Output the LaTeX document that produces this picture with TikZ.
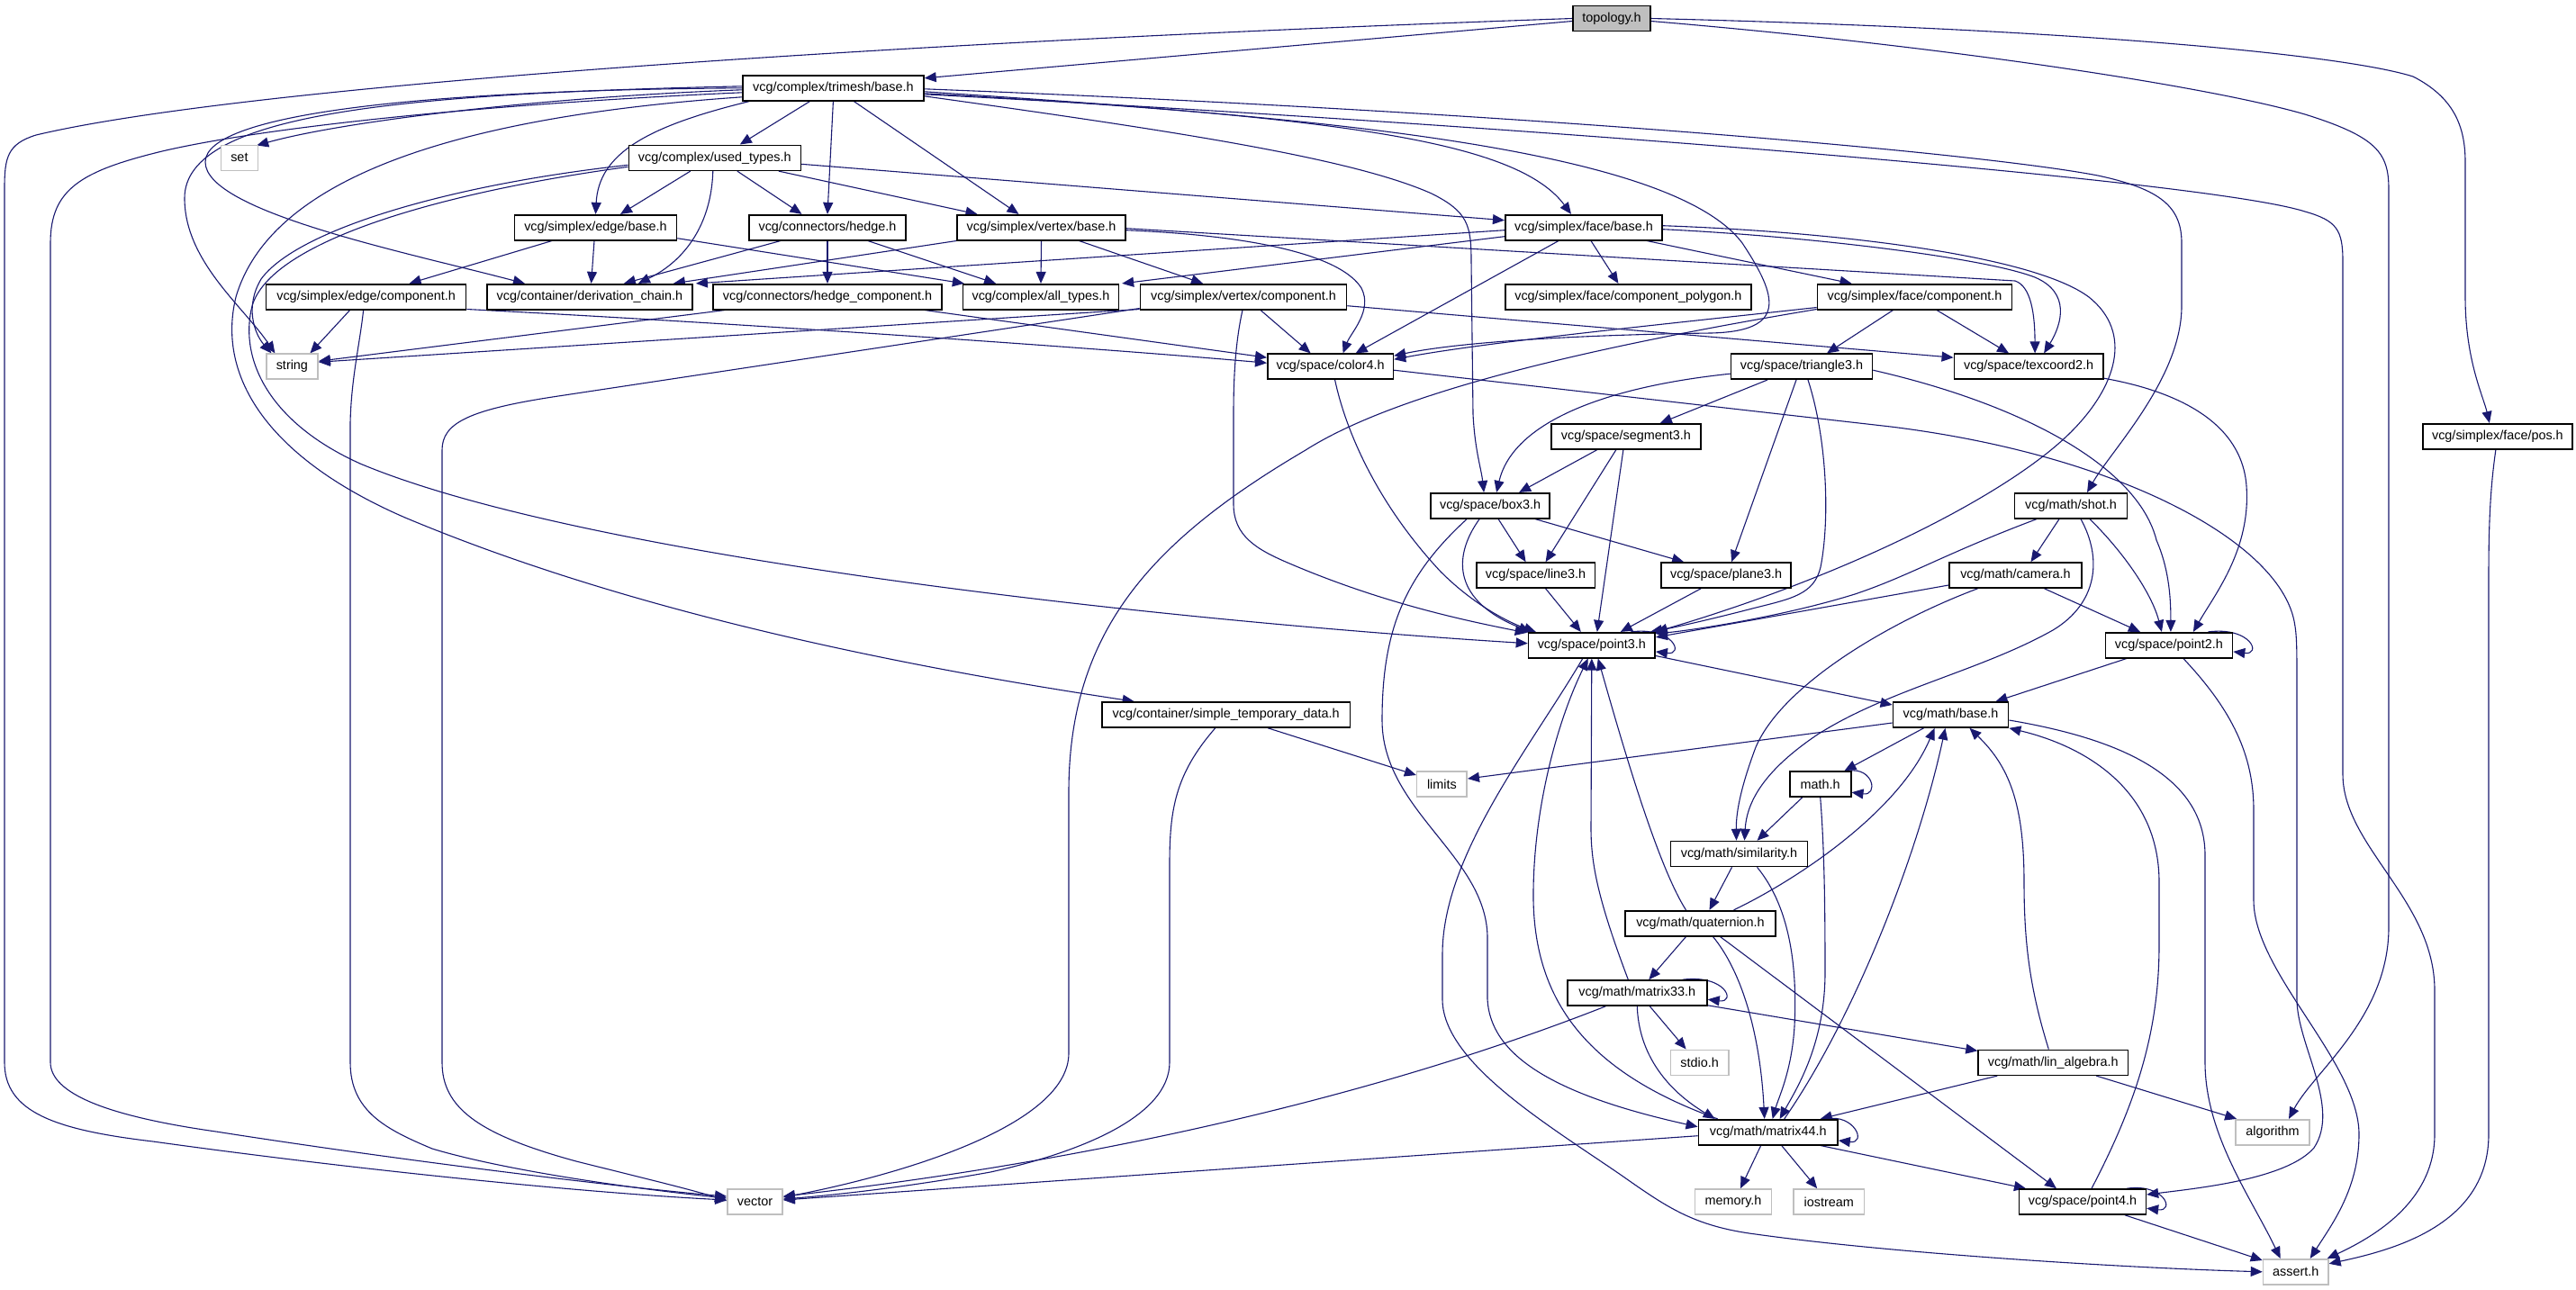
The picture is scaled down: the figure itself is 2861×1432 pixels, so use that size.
\documentclass[tikz,border=0pt]{standalone}
\usepackage{fontspec}
\setmainfont{Liberation Sans}
\usetikzlibrary{arrows.meta,calc}
\definecolor{edgec}{HTML}{191970}
\definecolor{extc}{HTML}{BFBFBF}
\pgfdeclarelayer{bg}
\pgfsetlayers{bg,main}
\tikzset{
 nd/.style={draw=black, line width=0.8pt, fill=white, rectangle, minimum height=14pt, inner sep=0pt, font=\fontsize{7.2}{8.6}\selectfont},
 ext/.style={nd, draw=extc},
 root/.style={nd, fill=extc},
 bw/.style={minimum width=#1*0.5pt},
 dep/.style={draw=edgec, line width=0.55pt, -{Triangle[length=6.5pt,width=5.5pt]}},
}
\begin{document}
\begin{tikzpicture}[x=0.5pt,y=-0.5pt]
\useasboundingbox (0,0) rectangle (2861,1432);
% ---------- nodes ----------
\node[root,bw=86] (topo) at (1790,20.5) {topology.h};
\node[nd,bw=201] (trimesh) at (925.4,97.8) {vcg/complex/trimesh/base.h};
\node[nd,bw=191] (used) at (793.8,175.3) {vcg/complex/used\_types.h};
\node[ext,bw=41] (set) at (265.9,175.3) {set};
\node[nd,bw=180] (ebase) at (661.5,252.7) {vcg/simplex/edge/base.h};
\node[nd,bw=174.5] (hedge) at (919,252.7) {vcg/connectors/hedge.h};
\node[nd,bw=187] (vbase) at (1156.5,252.7) {vcg/simplex/vertex/base.h};
\node[nd,bw=174.5] (fbase) at (1759,252.7) {vcg/simplex/face/base.h};
\node[nd,bw=222] (ecomp) at (406.6,329.7) {vcg/simplex/edge/component.h};
\node[nd,bw=228] (deriv) at (654.9,329.7) {vcg/container/derivation\_chain.h};
\node[nd,bw=254.4] (hcomp) at (919,329.7) {vcg/connectors/hedge\_component.h};
\node[nd,bw=172.7] (alltypes) at (1156,329.7) {vcg/complex/all\_types.h};
\node[nd,bw=229] (vcomp) at (1381,329.7) {vcg/simplex/vertex/component.h};
\node[nd,bw=273.3] (cpoly) at (1808.4,329.7) {vcg/simplex/face/component\_polygon.h};
\node[nd,bw=216] (fcomp) at (2126.5,329.7) {vcg/simplex/face/component.h};
\node[ext,bw=57.4] (string) at (324.4,407.2) {string};
\node[nd,bw=139.6] (color4) at (1477.6,407.2) {vcg/space/color4.h};
\node[nd,bw=157] (tri3) at (2001,407.2) {vcg/space/triangle3.h};
\node[nd,bw=165.5] (texc) at (2253.1,407.2) {vcg/space/texcoord2.h};
\node[nd,bw=166.2] (seg3) at (1805.9,484.8) {vcg/space/segment3.h};
\node[nd,bw=166.4] (pos) at (2773.9,484.8) {vcg/simplex/face/pos.h};
\node[nd,bw=131.8] (box3) at (1655.1,561.8) {vcg/space/box3.h};
\node[nd,bw=125.2] (shot) at (2300,561.8) {vcg/math/shot.h};
\node[nd,bw=131.8] (line3) at (1705.6,639) {vcg/space/line3.h};
\node[nd,bw=144.1] (plane3) at (1917.1,639) {vcg/space/plane3.h};
\node[nd,bw=147.1] (camera) at (2238.5,639) {vcg/math/camera.h};
\node[nd,bw=140.6] (point3) at (1767.8,716.7) {vcg/space/point3.h};
\node[nd,bw=141.2] (point2) at (2408.9,716.7) {vcg/space/point2.h};
\node[nd,bw=275.7] (stdata) at (1361.7,794) {vcg/container/simple\_temporary\_data.h};
\node[nd,bw=128.2] (mbase) at (2166.5,794) {vcg/math/base.h};
\node[ext,bw=55.5] (limits) at (1601.4,871) {limits};
\node[nd,bw=68] (mathh) at (2021.7,871) {math.h};
\node[nd,bw=152] (simil) at (1931.5,948.5) {vcg/math/similarity.h};
\node[nd,bw=167.1] (quat) at (1888.5,1025.7) {vcg/math/quaternion.h};
\node[nd,bw=155.2] (m33) at (1818.3,1103) {vcg/math/matrix33.h};
\node[ext,bw=64.3] (stdio) at (1887.6,1180.3) {stdio.h};
\node[nd,bw=166.4] (linalg) at (2280.3,1180.3) {vcg/math/lin\_algebra.h};
\node[nd,bw=154.7] (m44) at (1963.7,1257.7) {vcg/math/matrix44.h};
\node[ext,bw=82.1] (algo) at (2524,1257.7) {algorithm};
\node[ext,bw=84.9] (memory) at (1925,1335) {memory.h};
\node[ext,bw=78.5] (iostream) at (2031.2,1335) {iostream};
\node[nd,bw=140.7] (point4) at (2313,1335) {vcg/space/point4.h};
\node[ext,bw=61.1] (vector) at (838.5,1335) {vector};
\node[ext,bw=72.3] (assert) at (2549.7,1412.8) {assert.h};
% ---------- edges ----------
\begin{pgfonlayer}{bg}
\fill[white] (0,0) rectangle (2861,1432);
% topology
\draw[dep] ($(topo.west)+(0,3)$) -- ($(trimesh.east)+(0,-11)$);
\draw[dep] (topo.west) .. controls (900,50) and (250,100) .. (40,150) .. controls (8,160) and (5,175) .. (5,210) -- (5,1180) .. controls (5,1235) and (60,1255) .. (170,1268) .. controls (400,1300) and (650,1325) .. ($(vector.west)+(0,-2)$);
\draw[dep] ($(topo.east)+(0,3)$) .. controls (2150,50) and (2450,95) .. (2560,127) .. controls (2640,152) and (2653,170) .. (2653,210) -- (2653,1030) .. controls (2653,1130) and (2570,1190) .. ($(algo.north)+(18,0)$);
\draw[dep] (topo.east) .. controls (2300,32) and (2600,60) .. (2680,85) .. controls (2725,108) and (2738,140) .. (2738,180) -- (2738,330) .. controls (2738,400) and (2758,440) .. ($(pos.north)+(-9,0)$);
\draw[dep] ($(pos.south)+(-2,0)$) .. controls (2766,540) and (2764,580) .. (2764,640) -- (2764,1260) .. controls (2764,1360) and (2660,1388) .. ($(assert.east)+(0,-9)$);
% trimesh/base.h
\draw[dep] ($(trimesh.south)+(-26,0)$) -- ($(used.north)+(28,0)$);
\draw[dep] (trimesh.south) -- (hedge.north);
\draw[dep] ($(trimesh.south)+(23,0)$) -- ($(vbase.north)+(-25,0)$);
\draw[dep] ($(trimesh.south west)+(8,0)$) .. controls (720,140) and (665,170) .. (ebase.north);
\draw[dep] ($(trimesh.east)+(0,4)$) .. controls (1450,130) and (1680,150) .. ($(fbase.north)+(-14,0)$);
\draw[dep] ($(trimesh.west)+(0,2)$) .. controls (600,108) and (380,135) .. ($(set.north east)+(-2,1)$);
\draw[dep] ($(trimesh.west)+(0,-2)$) .. controls (450,104) and (205,125) .. (205,220) .. controls (205,290) and (270,340) .. ($(string.north)+(-19,0)$);
\draw[dep] (trimesh.west) .. controls (480,100) and (228,125) .. (228,180) .. controls (228,235) and (450,280) .. ($(deriv.north)+(-72,0)$);
\draw[dep] ($(trimesh.west)+(0,5)$) .. controls (550,115) and (300,140) .. (180,168) .. controls (90,190) and (56,210) .. (56,270) -- (56,1180) .. controls (56,1215) and (120,1240) .. (240,1257) .. controls (450,1290) and (700,1320) .. ($(vector.west)+(0,-6)$);
\draw[dep] ($(trimesh.west)+(0,10)$) .. controls (500,130) and (300,200) .. (262,330) .. controls (240,420) and (300,510) .. (450,575) .. controls (700,680) and (1000,740) .. ($(stdata.north)+(-102,0)$);
\draw[dep] ($(trimesh.east)+(0,9)$) .. controls (1300,145) and (1500,175) .. (1590,215) .. controls (1630,235) and (1634,250) .. (1634,290) -- (1636,460) .. controls (1638,500) and (1645,520) .. ($(box3.north)+(-7,0)$);
\draw[dep] ($(trimesh.east)+(0,6)$) .. controls (1500,130) and (1860,170) .. (1935,270) .. controls (1975,330) and (1985,368) .. (1900,370) .. controls (1750,372) and (1620,380) .. ($(color4.east)+(0,-12)$);
\draw[dep] ($(trimesh.east)+(0,1)$) .. controls (1700,125) and (2200,170) .. (2330,195) .. controls (2400,210) and (2423,230) .. (2423,270) -- (2423,340) .. controls (2423,420) and (2345,500) .. ($(shot.north)+(18,0)$);
\draw[dep] ($(trimesh.east)+(0,7)$) .. controls (1700,140) and (2450,200) .. (2560,235) .. controls (2595,245) and (2602,255) .. (2602,290) -- (2602,860) .. controls (2602,940) and (2704,1000) .. (2704,1100) -- (2704,1260) .. controls (2704,1330) and (2645,1370) .. ($(assert.north east)+(-2,0)$);
% used_types.h
\draw[dep] ($(used.south)+(-27,0)$) -- ($(ebase.north)+(27.5,0)$);
\draw[dep] ($(used.south)+(-2,0)$) .. controls (790,250) and (760,290) .. ($(deriv.north)+(54,0)$);
\draw[dep] ($(used.south)+(25,0)$) -- ($(hedge.north)+(-28.5,0)$);
\draw[dep] ($(used.south)+(71,0)$) -- ($(vbase.north)+(-71,0)$);
\draw[dep] ($(used.east)+(0,7)$) -- ($(fbase.west)+(0,-8)$);
\draw[dep] ($(used.west)+(0,8)$) .. controls (500,205) and (330,255) .. (290,310) .. controls (272,340) and (282,370) .. ($(string.north)+(-23,0)$);
\draw[dep] ($(used.west)+(0,10)$) .. controls (480,215) and (300,270) .. (280,340) .. controls (265,400) and (300,470) .. (400,515) .. controls (650,620) and (1300,690) .. ($(point3.west)+(0,-2)$);
% hedge.h
\draw[dep] ($(hedge.south)+(-52,0)$) -- ($(deriv.north)+(38,0)$);
\draw[dep] (hedge.south) -- (hcomp.north);
\draw[dep] ($(hedge.south)+(45,0)$) -- ($(alltypes.north)+(-50,0)$);
% edge/base.h
\draw[dep] ($(ebase.south)+(-48.5,0)$) -- ($(ecomp.north)+(48,0)$);
\draw[dep] ($(ebase.south)+(-1.5,0)$) -- ($(deriv.north)+(1.7,0)$);
\draw[dep] ($(ebase.east)+(0,12)$) -- ($(alltypes.north west)+(2,0)$);
% vertex/base.h
\draw[dep] (vbase.south) -- (alltypes.north);
\draw[dep] (vbase.south west) -- ($(deriv.north)+(93,0)$);
\draw[dep] ($(vbase.south)+(42,0)$) -- ($(vcomp.north)+(-45,0)$);
\draw[dep] ($(vbase.east)+(0,3)$) .. controls (1400,262) and (1490,285) .. (1512,320) .. controls (1525,345) and (1500,370) .. ($(color4.north)+(14,0)$);
\draw[dep] ($(vbase.east)+(0,1)$) -- (2238,312) .. controls (2256,318) and (2260,350) .. ($(texc.north)+(7,0)$);
% face/base.h
\draw[dep] ($(fbase.west)+(0,3)$) -- ($(deriv.north)+(118,0)$);
\draw[dep] ($(fbase.west)+(0,10)$) -- ($(alltypes.north east)+(3,0)$);
\draw[dep] ($(fbase.south)+(-28,0)$) -- ($(color4.north)+(28,0)$);
\draw[dep] ($(fbase.south)+(8,0)$) -- ($(cpoly.north)+(-11,0)$);
\draw[dep] ($(fbase.south)+(70,0)$) -- ($(fcomp.north)+(-70,0)$);
\draw[dep] ($(fbase.east)+(0,2)$) .. controls (2000,262) and (2200,285) .. (2260,308) .. controls (2300,325) and (2290,360) .. ($(texc.north)+(17,0)$);
\draw[dep] ($(fbase.east)+(0,-2)$) .. controls (2050,258) and (2260,285) .. (2320,330) .. controls (2370,370) and (2350,430) .. (2300,480) .. controls (2230,550) and (2050,640) .. (point3.north east);
% vertex/component.h
\draw[dep] ($(vcomp.south west)+(0,-1)$) -- ($(string.east)+(0,-5)$);
\draw[dep] ($(vcomp.south)+(19,0)$) -- ($(color4.north)+(-22,0)$);
\draw[dep] ($(vcomp.south)+(-1,0)$) .. controls (1372,380) and (1370,420) .. (1370,460) -- (1370,560) .. controls (1370,595) and (1395,610) .. (1430,625) .. controls (1530,668) and (1620,688) .. ($(point3.north west)+(-1,1)$);
\draw[dep] ($(vcomp.south west)+(0,-2)$) -- (620,440) .. controls (520,455) and (491,470) .. (491,500) -- (491,1180) .. controls (491,1230) and (530,1260) .. (640,1290) .. controls (720,1310) and (770,1322) .. ($(vector.west)+(0,-1)$);
\draw[dep] ($(vcomp.east)+(0,10)$) -- ($(texc.west)+(0,-10)$);
% edge/component.h
\draw[dep] ($(ecomp.south)+(-18,0)$) -- ($(string.north)+(20,0)$);
\draw[dep] ($(ecomp.south)+(-3,0)$) .. controls (400,380) and (390,420) .. (389,470) -- (389,1180) .. controls (389,1235) and (430,1255) .. (480,1276) .. controls (560,1300) and (700,1320) .. ($(vector.west)+(0,-4)$);
\draw[dep] ($(ecomp.south east)+(0,-1)$) .. controls (800,358) and (1200,385) .. ($(color4.west)+(0,-4)$);
% hedge_component.h
\draw[dep] ($(hcomp.south west)+(14,0)$) -- ($(string.east)+(0,-6)$);
\draw[dep] ($(hcomp.south east)+(-20,0)$) -- ($(color4.west)+(0,-10)$);
% face/component.h
\draw[dep] ($(fcomp.south west)+(0,-3)$) .. controls (1850,360) and (1650,380) .. ($(color4.east)+(0,-8)$);
\draw[dep] ($(fcomp.south west)+(0,-1)$) .. controls (1800,380) and (1560,430) .. (1450,500) .. controls (1280,600) and (1187,700) .. (1187,880) -- (1187,1170) .. controls (1187,1250) and (1000,1305) .. ($(vector.east)+(0,-5)$);
\draw[dep] ($(fcomp.south)+(-24,0)$) -- ($(tri3.north)+(28,0)$);
\draw[dep] ($(fcomp.south)+(24.5,0)$) -- ($(texc.north)+(-22,0)$);
% color4.h
\draw[dep] ($(color4.south)+(5,0)$) .. controls (1495,480) and (1530,560) .. (1600,635) .. controls (1640,675) and (1680,693) .. ($(point3.north)+(-62,0)$);
\draw[dep] ($(color4.east)+(0,4)$) -- (2100,474) .. controls (2350,505) and (2530,600) .. (2548,690) .. controls (2551,705) and (2551,720) .. (2551,760) -- (2551,1110) .. controls (2551,1160) and (2600,1230) .. (2570,1275) .. controls (2540,1310) and (2440,1320) .. ($(point4.east)+(0,-8)$);
% texcoord2.h
\draw[dep] ($(texc.east)+(0,13)$) .. controls (2420,435) and (2490,470) .. (2495,540) .. controls (2500,610) and (2460,660) .. ($(point2.north)+(27,0)$);
% triangle3.h
\draw[dep] ($(tri3.south)+(-38,0)$) -- ($(seg3.north)+(38,0)$);
\draw[dep] ($(tri3.west)+(0,8)$) .. controls (1780,430) and (1680,470) .. ($(box3.north)+(7,0)$);
\draw[dep] ($(tri3.south)+(-6,0)$) -- ($(plane3.north)+(6,0)$);
\draw[dep] ($(tri3.south)+(7,0)$) .. controls (2030,490) and (2032,580) .. (2022,630) .. controls (2015,660) and (1990,665) .. (1950,675) .. controls (1900,688) and (1860,697) .. ($(point3.north east)+(-6,0)$);
\draw[dep] ($(tri3.east)+(0,4)$) .. controls (2250,450) and (2375,520) .. (2395,600) .. controls (2408,630) and (2411,660) .. ($(point2.north)+(2,0)$);
% segment3.h
\draw[dep] ($(seg3.south)+(-32,0)$) -- ($(box3.north)+(32,0)$);
\draw[dep] ($(seg3.south)+(-11,0)$) -- ($(line3.north)+(11,0)$);
\draw[dep] ($(seg3.south)+(-3,0)$) -- ($(point3.north)+(6,0)$);
% box3.h
\draw[dep] ($(box3.south)+(9,0)$) -- ($(line3.north)+(-11,0)$);
\draw[dep] ($(box3.south)+(50,0)$) -- ($(plane3.north)+(-47,0)$);
\draw[dep] ($(box3.south)+(-12,0)$) .. controls (1612,620) and (1615,668) .. ($(point3.north)+(-68,0)$);
\draw[dep] ($(box3.south)+(-26,0)$) .. controls (1560,640) and (1535,700) .. (1535,800) .. controls (1535,900) and (1650,950) .. (1652,1040) -- (1652,1110) .. controls (1655,1170) and (1720,1215) .. ($(m44.west)+(0,-6)$);
% point3.h
\draw[dep] ($(point3.south)+(-10,0)$) .. controls (1700,830) and (1602,950) .. (1602,1060) -- (1602,1110) .. controls (1602,1180) and (1720,1250) .. (1800,1305) .. controls (1850,1340) and (1880,1362) .. (1950,1371) .. controls (2100,1392) and (2350,1408) .. (assert.west);
\draw[dep] ($(point3.south east)+(0,-3)$) -- ($(mbase.west)+(0,-11)$);
\draw[dep] ($(point3.north east)+(-28,0)$) .. controls ($(point3.north east)+(20,-6)$) and ($(point3.north east)+(32,26)$) .. ($(point3.north east)+(0,22)$);
% line3 / plane3
\draw[dep] ($(line3.south)+(11,0)$) -- ($(point3.north)+(-12,0)$);
\draw[dep] ($(plane3.south)+(-28,0)$) -- ($(point3.north)+(32,0)$);
% simple_temporary_data.h
\draw[dep] ($(stdata.south east)+(-92,0)$) -- ($(limits.west)+(0,-10)$);
\draw[dep] ($(stdata.south)+(-12,0)$) .. controls (1305,860) and (1299,900) .. (1299,960) -- (1299,1180) .. controls (1299,1240) and (1200,1280) .. (1100,1302) .. controls (1000,1320) and (920,1328) .. ($(vector.east)+(0,-3)$);
% shot.h
\draw[dep] ($(shot.south)+(-38,0)$) .. controls (2160,615) and (2120,640) .. (2060,660) .. controls (1980,685) and (1880,700) .. ($(point3.north east)+(0,2)$);
\draw[dep] ($(shot.south)+(-13,0)$) -- ($(camera.north)+(17,0)$);
\draw[dep] ($(shot.south)+(11,0)$) .. controls (2335,620) and (2330,670) .. (2280,700) .. controls (2200,745) and (2100,765) .. (2020,815) .. controls (1960,855) and (1940,890) .. ($(simil.north)+(6,0)$);
\draw[dep] ($(shot.south)+(21,0)$) .. controls (2360,615) and (2390,660) .. ($(point2.north)+(-8,0)$);
% camera.h
\draw[dep] ($(camera.west)+(0,11)$) -- ($(point3.north east)+(0,6)$);
\draw[dep] ($(camera.south)+(-42,0)$) .. controls (2100,690) and (1980,760) .. (1950,830) .. controls (1935,870) and (1928,900) .. ($(simil.north)+(-3,0)$);
\draw[dep] ($(camera.south)+(32,0)$) -- ($(point2.north)+(-32,0)$);
% point2.h
\draw[dep] ($(point2.north east)+(-28,0)$) .. controls ($(point2.north east)+(20,-6)$) and ($(point2.north east)+(32,26)$) .. ($(point2.north east)+(0,22)$);
\draw[dep] ($(point2.south)+(-47,0)$) -- ($(mbase.north)+(50,0)$);
\draw[dep] ($(point2.south)+(16,0)$) .. controls (2480,790) and (2503,840) .. (2503,900) -- (2503,1000) .. controls (2503,1080) and (2620,1180) .. (2620,1260) .. controls (2620,1320) and (2590,1360) .. ($(assert.north)+(16,0)$);
% math/base.h
\draw[dep] ($(mbase.west)+(0,9)$) -- ($(limits.east)+(0,-6)$);
\draw[dep] ($(mbase.south)+(-30,0)$) -- ($(mathh.north east)+(-8,0)$);
\draw[dep] ($(mbase.east)+(0,6)$) .. controls (2350,820) and (2449,860) .. (2449,950) -- (2449,1180) .. controls (2449,1260) and (2500,1330) .. ($(assert.north)+(-17,0)$);
% math.h
\draw[dep] ($(mathh.north east)+(-3,0)$) .. controls ($(mathh.north east)+(24,-4)$) and ($(mathh.north east)+(30,28)$) .. ($(mathh.north east)+(0,24)$);
\draw[dep] ($(mathh.south)+(-20,0)$) -- ($(simil.north)+(20,0)$);
\draw[dep] (mathh.south) .. controls (2026,940) and (2027,1000) .. (2027,1080) .. controls (2027,1160) and (1995,1210) .. ($(m44.north)+(13,0)$);
% similarity.h
\draw[dep] ($(simil.south)+(-8,0)$) -- ($(quat.north)+(10,0)$);
\draw[dep] ($(simil.south)+(20,0)$) .. controls (1990,1010) and (1996,1080) .. (1993,1140) .. controls (1990,1190) and (1975,1220) .. ($(m44.north)+(5,0)$);
% quaternion.h
\draw[dep] ($(quat.north)+(-16,0)$) .. controls (1840,960) and (1800,820) .. ($(point3.south)+(7,0)$);
\draw[dep] ($(quat.south)+(-16,0)$) -- ($(m33.north)+(13,0)$);
\draw[dep] ($(quat.south)+(14,0)$) .. controls (1935,1080) and (1955,1150) .. ($(m44.north)+(-4,0)$);
\draw[dep] ($(quat.south)+(22,0)$) -- ($(point4.north)+(-29,0)$);
\draw[dep] ($(quat.north)+(37,0)$) .. controls (2000,975) and (2110,900) .. ($(mbase.south)+(-18,0)$);
% matrix33.h
\draw[dep] ($(m33.north east)+(-28,0)$) .. controls ($(m33.north east)+(20,-6)$) and ($(m33.north east)+(32,26)$) .. ($(m33.north east)+(0,22)$);
\draw[dep] ($(m33.north)+(-10,0)$) .. controls (1775,1000) and (1767,960) .. (1767,920) -- (point3.south);
\draw[dep] ($(m33.south)+(14,0)$) -- ($(stdio.north)+(-15,0)$);
\draw[dep] (m33.south) .. controls (1820,1170) and (1850,1210) .. ($(m44.north)+(-59,0)$);
\draw[dep] ($(m33.south east)+(0,-1)$) -- ($(linalg.west)+(0,-13)$);
\draw[dep] ($(m33.south)+(-35,0)$) .. controls (1600,1190) and (1300,1280) .. ($(vector.east)+(0,-6)$);
% matrix44.h
\draw[dep] ($(m44.north)+(-56,0)$) .. controls (1760,1190) and (1705,1110) .. (1703,1000) .. controls (1702,900) and (1730,800) .. ($(point3.south)+(-4,0)$);
\draw[dep] ($(m44.north)+(18,0)$) .. controls (2060,1130) and (2130,950) .. ($(mbase.south)+(-6,0)$);
\draw[dep] ($(m44.west)+(0,4)$) -- ($(vector.east)+(0,-2)$);
\draw[dep] ($(m44.south)+(-8,0)$) -- ($(memory.north)+(8,0)$);
\draw[dep] ($(m44.south)+(15,0)$) -- ($(iostream.north)+(-13,0)$);
\draw[dep] ($(m44.south east)+(-20,0)$) -- ($(point4.north)+(-63,0)$);
\draw[dep] ($(m44.north east)+(-14,0)$) .. controls ($(m44.north east)+(18,-6)$) and ($(m44.north east)+(32,28)$) .. ($(m44.north east)+(0,24)$);
% lin_algebra.h
\draw[dep] ($(linalg.north)+(-5,0)$) .. controls (2255,1100) and (2248,1050) .. (2248,980) .. controls (2248,890) and (2230,850) .. ($(mbase.south)+(21,0)$);
\draw[dep] ($(linalg.south west)+(22,0)$) -- ($(m44.north)+(58,0)$);
\draw[dep] ($(linalg.south)+(48,0)$) -- ($(algo.north west)+(2,0)$);
% point4.h
\draw[dep] ($(point4.north)+(10,0)$) .. controls (2370,1230) and (2398,1150) .. (2398,1050) -- (2398,980) .. controls (2398,880) and (2320,830) .. (mbase.south east);
\draw[dep] ($(point4.south)+(47,0)$) -- ($(assert.north west)+(0,2)$);
\draw[dep] ($(point4.north east)+(-22,0)$) .. controls ($(point4.north east)+(20,-6)$) and ($(point4.north east)+(32,26)$) .. ($(point4.north east)+(0,22)$);
\end{pgfonlayer}
\end{tikzpicture}
\end{document}
